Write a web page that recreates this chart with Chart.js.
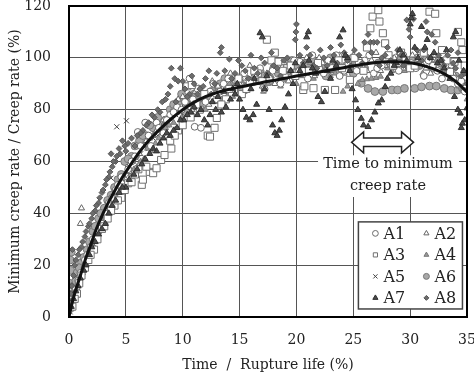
<!DOCTYPE html>
<html>
<head>
<meta charset="utf-8">
<script src="https://cdn.jsdelivr.net/npm/chart.js@4.4.1/dist/chart.umd.min.js"></script>
<style>
html, body { margin: 0; padding: 0; background: #fff; }
#contenedor { width: 474px; height: 374px; }
</style>
</head>
<body>
<div id="contenedor"><canvas id="graficoCreep" width="474" height="374"></canvas></div>
<script>
// Datos (x = tiempo / vida de ruptura %, y = velocidad de creep %)
const nombres = ['A1', 'A2', 'A3', 'A4', 'A5', 'A6', 'A7', 'A8'];

const a1 = [[0.1,3],[0.3,7],[0.6,11],[1.0,17],[1.4,22],[1.9,27],[2.4,32],[2.9,36],[3.5,44],[4.1,49],[4.6,54],[5.2,57],[5.8,62],[6.05,71.4],[6.7,75],[7.2,66],[7.7,75],[8.3,71],[8.9,78],[9.5,81],[10.2,83],[10.6,92],[11.05,73.4],[11.6,73],[12.0,83],[12.4,87],[13.0,84],[13.6,90],[14.3,86],[15.0,92],[15.7,89],[16.4,93],[17.2,88],[17.9,95],[18.6,90],[19.4,96],[20.3,98.5],[21.0,92],[21.7,97],[22.4,94],[23.1,99],[23.8,93],[24.5,97],[25.3,95],[26.0,99],[26.8,94],[27.5,97],[28.2,100],[29.0,95],[29.7,99],[30.5,96],[31.2,93],[32.0,97],[32.8,92],[33.5,94],[34.2,90],[34.8,87],
    [0.2,5],[0.8,14],[1.6,24],[2.1,30],[2.6,33],[3.2,40],[3.8,46],[4.3,51],[5.5,60],[6.3,66],[7.0,70],[7.9,73],[8.6,76],[9.2,79],[9.9,80],[10.9,84],[11.3,88],[12.7,90],[13.3,87],[14.0,92],[14.7,89],[15.4,94],[16.1,91],[16.8,96],[17.6,92],[18.3,97],[19.0,93],[19.8,99],[20.6,95],[21.4,101],[22.0,96],[22.8,99],[23.5,101],[24.2,95],[24.9,100],[25.7,97],[26.4,101],[27.1,96],[27.9,99],[28.6,97],[29.4,101],[30.1,98],[30.9,101],[31.6,99],[32.4,95],[33.1,97],[33.8,92],[34.5,91]];

const a2 = [[0.2,5],[0.5,10],[0.8,13],[1.0,36],[1.1,42],[1.3,19],[1.8,25],[2.3,30],[2.8,37],[3.3,41],[3.9,46],[4.4,50],[5.0,53],[5.6,60],[6.2,63],[6.8,68],[7.4,70],[8.0,74],[8.7,77],[9.3,80],[10.0,85],[10.8,80],[11.5,86],[12.3,82],[13.1,89],[13.9,85],[14.6,91],[15.4,87],[15.9,97],[16.2,93],[17.0,89],[17.8,92],[18.5,96],[19.3,91],[20.1,95],[20.9,100],[21.6,93],[22.3,98],[23.0,95],[23.8,101],[24.6,96],[25.4,99],[26.2,95],[27.0,102],[27.8,97],[28.6,100],[29.4,96],[30.2,101],[31.0,98],[31.8,94],[32.6,99],[33.4,95],[34.1,92],[34.8,89],
    [0.4,8],[0.9,16],[1.5,22],[2.0,28],[2.5,34],[3.0,39],[3.6,44],[4.2,48],[4.7,52],[5.3,56],[5.9,62],[6.5,66],[7.1,69],[7.7,72],[8.3,76],[9.0,79],[9.6,84],[10.4,83],[11.1,87],[11.9,84],[12.6,91],[13.5,88],[14.2,94],[15.0,90],[15.7,92],[16.6,95],[17.4,94],[18.1,90],[18.9,98],[19.7,93],[20.5,97],[21.3,95],[22.0,100],[22.7,96],[23.4,99],[24.2,94],[25.0,101],[25.8,97],[26.6,99],[27.4,95],[28.2,98],[29.0,102],[29.8,97],[30.6,99],[31.4,96],[32.2,101],[33.0,97],[33.8,94],[34.5,90]];

const a3 = [[0.3,4],[0.7,9],[1.1,16],[1.4,19],[1.7,22],[2.2,26],[2.9,34],[3.4,38],[4.0,43],[4.6,46],[5.2,51.6],[5.5,52],[6.4,51],[6.5,53],[7.1,56],[7.4,55.5],[7.7,57.4],[8.1,60.6],[8.4,62.5],[8.9,68],[9.0,65],[9.6,72],[10.4,89],[10.8,89.5],[11.5,80],[12.2,70],[12.4,69.6],[12.8,73],[13.0,76.8],[13.8,84],[14.5,88],[15.2,86],[15.9,91],[16.6,94],[17.4,107],[18.1,102],[18.4,98.5],[19.2,96],[19.9,93],[20.6,87.6],[20.7,89],[21.5,88.3],[22.5,87.6],[23.4,87.6],[24.0,96],[24.7,91.5],[25.5,98],[26.5,111.4],[26.7,115.9],[27.2,118.4],[27.3,114],[27.6,109.5],[27.8,105.6],[28.5,97],[29.2,102],[30.0,96],[30.8,100],[31.7,117.8],[32.2,117],[32.3,109.5],[32.8,103],[33.5,94.6],[33.9,98.5],[34.2,110],[34.5,106],[34.6,103],
    [0.5,7],[0.9,13],[1.9,24],[2.5,30],[3.1,35],[3.7,41],[4.3,45],[4.9,49],[5.8,55],[6.1,57],[6.8,58],[9.3,70],[10.0,74],[10.7,77],[11.2,82],[11.9,86],[13.4,82],[14.1,88],[14.9,92],[15.6,88],[16.3,95],[17.0,91],[17.8,99],[18.8,95],[19.5,97],[21.1,95],[21.9,98],[23.0,96],[23.7,99],[25.1,100],[25.9,95],[26.2,104],[28.1,101],[28.9,98],[29.6,99],[30.4,97],[31.2,102],[33.2,99],[34.8,97]];

const a4 = [[0.2,3],[0.5,9],[0.9,14],[1.4,21],[1.9,26],[2.5,31],[3.1,37],[3.6,40],[4.2,46],[4.8,49],[5.4,55],[6.0,58],[6.6,61],[7.2,64],[7.9,69],[8.5,73],[9.2,75],[9.9,77],[10.6,82],[11.3,85],[12.0,80],[12.7,88],[13.4,84],[14.1,90],[14.8,86],[15.5,89],[16.3,91],[17.1,87],[17.8,93],[18.6,89],[19.3,94],[20.0,90],[20.8,95],[21.5,92],[22.2,96],[23.0,93],[23.7,97],[24.1,87],[24.5,89],[25.8,91.5],[26.2,91.8],[26.6,92],[27.0,92.3],[27.4,92.8],[28.0,96],[28.8,99],[29.5,95],[30.3,97],[31.1,94],[31.9,98],[32.7,95],[33.5,92],[34.3,89],[35.0,84],
    [0.3,6],[0.7,11],[1.2,17],[1.7,24],[2.2,29],[2.8,34],[3.4,39],[3.9,44],[4.5,48],[5.1,52],[5.7,57],[6.3,60],[6.9,65],[7.6,67],[8.2,71],[8.8,74],[9.5,79],[10.2,81],[10.9,78],[11.6,84],[12.3,86],[13.0,83],[13.7,88],[14.4,85],[15.2,91],[15.9,88],[16.7,93],[17.5,90],[18.2,95],[18.9,92],[19.7,96],[20.4,93],[21.2,98],[21.9,95],[22.6,99],[23.4,94],[24.8,96],[25.4,90],[27.8,99],[28.4,95],[29.1,101],[29.8,97],[30.7,100],[31.5,96],[32.3,99],[33.1,94],[33.9,96],[34.6,88]];

const a5 = [[0.1,2],[0.4,7],[0.8,12],[1.3,18],[1.9,25],[2.6,32],[3.2,39],[3.7,53.6],[4.2,73.4],[4.5,50],[5.05,75.7],[5.6,57],[6.3,63],[7.0,65],[7.8,70],[8.6,74],[9.4,78],[10.3,81],[11.2,84],[12.1,86],[13.0,87],
    [0.2,4],[0.6,10],[1.0,15],[1.6,22],[2.2,28],[2.9,36],[3.5,42],[4.0,48],[4.8,54],[5.3,58],[6.0,61],[6.6,66],[7.4,69],[8.2,72],[9.0,76],[9.8,79],[10.8,83],[11.6,85],[12.5,86]];

const a6 = [[0.05,8],[0.1,13],[0.15,18],[0.1,22],[0.2,25],[0.4,12],[0.7,17],[1.1,21],[1.6,26],[2.1,33],[2.6,38],[3.1,42],[3.7,47],[4.3,53],[4.9,60],[5.5,62],[6.2,68],[6.8,70],[7.4,73],[8.2,73.4],[8.9,80],[9.6,83],[10.3,79],[11.0,86],[11.8,82],[12.5,87],[13.3,90],[14.4,90.8],[15.2,87],[16.2,90.8],[16.8,95],[17.6,91],[18.4,94],[19.2,97],[20.1,97],[21.0,98],[21.8,95],[22.6,93],[23.4,98.5],[24.2,96],[24.6,99],[25.0,94],[25.7,90.2],[26.3,88.2],[26.9,87],[27.2,98],[27.6,87],[28.4,87.6],[28.9,87.6],[29.5,88.2],[29.8,97],[30.4,88.2],[31.0,88.8],[31.7,89.1],[32.3,89.1],[33.0,88.2],[33.6,87.6],[34.2,87.6],[34.6,88.2],
    [0.3,9],[0.6,14],[0.9,19],[1.3,23],[1.8,29],[2.3,35],[2.8,40],[3.4,45],[4.0,50],[4.6,55],[5.2,61],[5.8,66],[6.5,70],[7.1,74],[7.8,77],[8.5,76],[9.2,82],[9.9,86],[10.7,84],[11.4,88],[12.1,85],[12.9,89],[13.7,92],[14.8,92],[15.6,89],[17.2,93],[18.0,96],[18.8,92],[19.6,99],[20.5,96],[21.4,99],[22.2,97],[23.0,100],[23.8,95],[24.4,97],[25.3,98],[26.0,96],[27.9,99],[28.6,97],[29.2,100],[30.1,99],[30.8,97],[31.4,100],[32.0,96],[32.7,98],[33.3,95],[34.0,93],[34.8,90]];

const a7 = [[0.2,4],[0.6,10],[1.0,15],[1.5,20],[2.0,27],[2.6,32],[3.2,36],[3.8,43],[4.4,48],[5.0,50],[5.7,55],[6.4,59],[7.1,63],[7.7,64],[8.3,69],[8.9,70],[9.5,73],[10.1,76],[10.7,79],[11.3,78],[11.9,76],[12.2,74],[12.4,78],[12.9,80],[13.4,79],[13.8,81],[14.2,84],[14.6,86],[15.0,84],[15.3,80],[15.6,77],[15.9,76],[16.2,78],[16.5,82],[16.8,109.6],[17.0,108],[17.2,88],[17.6,80],[17.9,74],[18.1,71],[18.3,70],[18.5,72],[18.7,76],[19.0,81],[19.3,86],[19.7,90],[20.3,95],[20.9,108],[21.05,110],[21.4,96],[21.9,85],[22.2,83],[22.5,87],[23.0,92],[23.5,97],[23.8,108],[24.1,110.7],[24.5,100],[24.9,88],[25.2,83.7],[25.4,80],[25.7,76.6],[25.9,74],[26.3,73.4],[26.6,76],[26.9,79],[27.2,82.5],[27.5,83.7],[27.8,88.8],[28.3,94],[28.8,98],[29.4,101],[30.0,113],[30.1,115.4],[30.2,117],[31.0,112],[31.3,104],[31.8,100],[32.4,98],[33.0,96],[33.5,92],[33.8,108],[34.0,110],[33.9,85],[34.2,80],[34.4,78.6],[34.6,74.7],[34.5,73],[34.8,76],[35.0,80.6],
    [0.4,7],[0.8,12],[1.3,18],[1.8,24],[2.3,29],[2.9,34],[3.5,40],[4.1,45],[4.7,50],[5.3,53],[6.0,57],[6.7,61],[7.4,65],[8.0,67],[8.6,71],[9.2,72],[9.8,76],[10.4,78],[11.0,81],[11.6,80],[12.6,83],[13.1,85],[13.6,87],[14.4,88],[14.8,90],[16.0,88],[16.3,92],[17.4,93],[19.5,95],[19.9,98],[20.6,97],[21.1,99],[21.7,94],[22.7,95],[23.2,99],[24.3,101],[24.7,95],[28.0,92],[28.6,97],[29.1,103],[29.7,99],[30.4,104],[30.7,100],[31.5,107],[32.1,102],[32.7,99],[33.2,103],[34.3,99],[34.7,95]];

const a8 = [[0.1,6],[0.25,12],[0.3,26],[0.5,20],[0.8,24],[1.1,27],[1.4,31],[1.7,35],[2.0,38],[2.3,41],[2.6,44],[2.9,48],[3.2,51],[3.5,54],[3.8,58],[3.7,63],[4.1,60],[4.4,65],[4.7,68],[5.0,64],[5.5,69],[6.0,70],[6.5,72],[7.0,75],[7.5,77],[8.0,79],[8.5,84],[8.9,89],[9.0,96],[9.3,92],[9.4,83],[9.6,91],[9.8,96],[10.2,88],[10.6,86],[11.0,90],[11.5,88],[12.0,92],[12.5,86],[13.0,94],[13.3,102],[13.4,104],[14.1,99.5],[14.6,94],[15.2,97],[15.8,92],[16.3,96],[16.9,100],[17.5,94],[18.0,97],[18.6,93],[19.2,100],[19.9,107],[19.95,110],[20.0,113],[20.6,98],[21.2,101],[21.8,96],[22.4,100],[23.0,104],[23.6,98],[24.2,102],[24.8,97],[25.5,101],[26.0,106],[26.3,109],[26.5,106],[26.8,106],[27.1,106],[27.5,100],[28.0,104],[28.6,98],[29.2,101],[29.7,114.6],[29.9,111],[30.0,108],[30.3,115],[30.6,103],[31.0,99],[31.4,114],[31.5,110],[31.9,109],[32.5,101],[33.0,97],[33.6,103],[34.0,96],[34.5,93],[35.0,90],
    [0.2,9],[0.4,16],[0.6,22],[0.9,26],[1.2,29],[1.5,33],[1.8,36],[2.1,40],[2.4,43],[2.7,46],[3.0,49],[3.3,53],[3.6,56],[3.9,60],[4.2,62],[4.5,63],[4.9,66],[5.2,67],[5.8,66],[6.3,71],[6.8,74],[7.3,78],[7.8,80],[8.2,83],[8.7,86],[10.0,91],[10.4,85],[10.8,93],[11.3,86],[11.8,89],[12.3,95],[12.8,90],[13.7,95],[14.3,92],[14.9,99],[15.5,95],[16.0,101],[16.6,94],[17.2,98],[17.8,102],[18.3,96],[18.9,99],[19.5,95],[20.3,101],[20.9,104],[21.5,97],[22.1,103],[22.7,97],[23.3,101],[23.9,105],[24.5,99],[25.1,103],[25.8,98],[26.6,102],[27.3,97],[27.8,101],[28.3,99],[28.9,103],[29.4,97],[30.8,98],[31.2,103],[31.7,100],[32.2,106],[32.8,99],[33.3,101],[33.8,98],[34.2,102],[34.8,94]];

// Curva de ajuste (linea negra)
const curvaAjuste = [[0,0],[0.25,5],[0.5,9],[1,16],[1.5,23],[2,29],[2.5,35],[3,40],[3.5,44.5],[4,48.5],[4.5,52.5],[5,56],[6,62.5],[7,68],[8,72.5],[9,76.5],[10,80],[11,82.8],[12,85],[13,86.6],[14,87.8],[15,88.7],[16,89.6],[17,90.5],[18,91.3],[19,92.1],[20,93],[21,93.8],[22,94.5],[23,95.3],[24,96.1],[25,96.9],[26,97.6],[27,98.2],[28,98.5],[29,98.5],[30,98.1],[31,97.2],[32,95.8],[33,93.8],[34,90.9],[35,86.8]];

const ejeX = { min: 0, max: 35, paso: 5 };
const ejeY = { min: 0, max: 120, paso: 20 };

const fuente = '"DejaVu Serif", "Liberation Serif", serif';

// estilo de cada serie
const estilos = [
    { pointStyle: 'circle',   radius: 3.4, bg: '#ffffff', border: '#6a6a6a' },
    { pointStyle: 'triangle', radius: 3.5, bg: '#ffffff', border: '#666666' },
    { pointStyle: 'rect',     radius: 5,   bg: '#ffffff', border: '#707070' },
    { pointStyle: 'triangle', radius: 3.3, bg: '#9a9a9a', border: '#777777' },
    { pointStyle: 'crossRot', radius: 3.6, bg: '#444444', border: '#444444' },
    { pointStyle: 'circle',   radius: 3.9, bg: '#a8a8a8', border: '#777777' },
    { pointStyle: 'triangle', radius: 3.5, bg: '#4a4a4a', border: '#2e2e2e' },
    { pointStyle: 'rectRot',  radius: 2.9, bg: '#6c6c6c', border: '#555555' },
];
const series = [a1, a2, a3, a4, a5, a6, a7, a8];
const aPuntos = arr => arr.map(([x, y]) => ({ x, y }));

const datasets = series.map((s, i) => ({
    label: nombres[i],
    data: aPuntos(s),
    pointStyle: estilos[i].pointStyle,
    pointRadius: estilos[i].radius,
    backgroundColor: estilos[i].bg,
    borderColor: estilos[i].border,
    borderWidth: 1,
    showLine: false,
    order: [4, 5, 3, 6, 7, 8, 1, 2][i],
}));
datasets.push({
    label: 'ajuste',
    type: 'line',
    data: aPuntos(curvaAjuste),
    borderColor: '#111111',
    borderWidth: 3,
    pointRadius: 0,
    fill: false,
    cubicInterpolationMode: 'monotone',
    order: 0,
});

// marco, anotacion y leyenda dibujados a mano
const extras = {
    id: 'extras',
    beforeDatasetsDraw(chart) {
        const { ctx, scales: { x, y } } = chart;
        ctx.save();
        // caja blanca detras del texto
        const bx1 = x.getPixelForValue(21.9), bx2 = x.getPixelForValue(34.3);
        const by1 = y.getPixelForValue(62.4), by2 = y.getPixelForValue(46.3);
        ctx.fillStyle = '#fff';
        ctx.fillRect(bx1, by1, bx2 - bx1, by2 - by1);
        // flecha doble hueca
        const xl = x.getPixelForValue(24.85), xr = x.getPixelForValue(30.3);
        const cy = y.getPixelForValue(67.4);
        const hl = 12, hh = 10.5, sh = 4.2;
        ctx.beginPath();
        ctx.moveTo(xl, cy);
        ctx.lineTo(xl + hl, cy - hh);
        ctx.lineTo(xl + hl, cy - sh);
        ctx.lineTo(xr - hl, cy - sh);
        ctx.lineTo(xr - hl, cy - hh);
        ctx.lineTo(xr, cy);
        ctx.lineTo(xr - hl, cy + hh);
        ctx.lineTo(xr - hl, cy + sh);
        ctx.lineTo(xl + hl, cy + sh);
        ctx.lineTo(xl + hl, cy + hh);
        ctx.closePath();
        ctx.fill();
        ctx.lineWidth = 1.5;
        ctx.strokeStyle = '#222';
        ctx.stroke();
        // texto
        ctx.fillStyle = '#222';
        ctx.font = '14.5px ' + fuente;
        ctx.textAlign = 'center';
        ctx.textBaseline = 'middle';
        const tx = x.getPixelForValue(28.05);
        ctx.fillText('Time to minimum', tx, y.getPixelForValue(59));
        ctx.fillText('creep rate', tx, y.getPixelForValue(50.5));
        ctx.restore();
    },
    afterDraw(chart) {
        const { ctx, chartArea: a, scales: { x, y } } = chart;
        ctx.save();
        // leyenda
        const lx1 = x.getPixelForValue(25.45), lx2 = x.getPixelForValue(34.6);
        const ly1 = y.getPixelForValue(36.7), ly2 = y.getPixelForValue(3.1);
        ctx.fillStyle = '#fff';
        ctx.fillRect(lx1, ly1, lx2 - lx1, ly2 - ly1);
        ctx.lineWidth = 1.5;
        ctx.strokeStyle = '#444';
        ctx.strokeRect(lx1, ly1, lx2 - lx1, ly2 - ly1);
        ctx.font = '16px ' + fuente;
        ctx.textAlign = 'left';
        ctx.textBaseline = 'middle';
        nombres.forEach((n, i) => {
            const col = i % 2, fila = Math.floor(i / 2);
            const mx = lx1 + 17 + col * 51;
            const my = ly1 + 11.5 + fila * 21.5;
            const e = estilos[i];
            ctx.fillStyle = e.bg;
            ctx.strokeStyle = e.border;
            ctx.lineWidth = 1;
            Chart.helpers.drawPoint(ctx, { pointStyle: e.pointStyle, radius: Math.min(e.radius, 3.5) * 0.85, borderWidth: 1, rotation: 0 }, mx, my);
            ctx.fillStyle = '#222';
            ctx.fillText(n, mx + 8, my + 1);
        });
        // marco grueso
        ctx.lineWidth = 2;
        ctx.strokeStyle = '#000';
        ctx.strokeRect(a.left, a.top, a.right - a.left, a.bottom - a.top);
        ctx.restore();
    }
};

new Chart(document.getElementById('graficoCreep'), {
    type: 'scatter',
    data: { datasets },
    options: {
        responsive: false,
        animation: false,
        events: [],
        layout: { padding: { left: 0, right: 7, top: 6, bottom: 0 } },
        plugins: { legend: { display: false }, tooltip: { enabled: false } },
        scales: {
            x: {
                type: 'linear',
                min: ejeX.min, max: ejeX.max,
                border: { display: false },
                grid: { color: '#555', lineWidth: 1, drawTicks: false },
                ticks: { stepSize: ejeX.paso, padding: 15, color: '#222', font: { family: fuente, size: 14 } },
                title: { display: true, text: 'Time  /  Rupture life (%)', color: '#222', font: { family: fuente, size: 14 }, padding: { top: 0, bottom: 0 } },
                afterFit: s => { s.height = 57; s.paddingLeft = 0; s.paddingRight = 0; }
            },
            y: {
                min: ejeY.min, max: ejeY.max,
                border: { display: false },
                grid: { color: '#555', lineWidth: 1, drawTicks: false },
                ticks: { stepSize: ejeY.paso, padding: 18, color: '#222', font: { family: fuente, size: 14 } },
                title: { display: true, text: 'Minimum creep rate / Creep rate (%)', color: '#222', font: { family: fuente, size: 14 }, padding: { top: 6.6, bottom: 0 } },
                afterFit: s => { s.width = 69; s.paddingTop = 0; s.paddingBottom = 0; }
            }
        }
    },
    plugins: [extras]
});
</script>
</body>
</html>
